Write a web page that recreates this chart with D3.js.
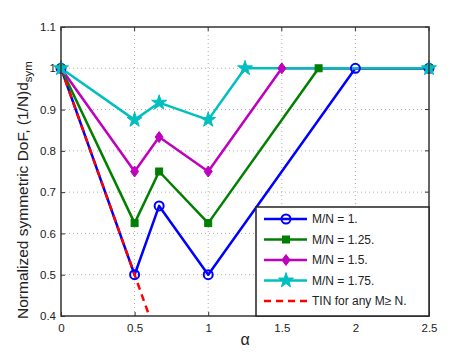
<!DOCTYPE html>
<html><head><meta charset="utf-8">
<script src="https://cdn.jsdelivr.net/npm/d3@7"></script>
<style>body{margin:0;background:#fff}svg{display:block}text{font-family:"Liberation Sans",Arial,sans-serif}</style>
</head><body><svg id="c" width="474" height="355"></svg>
<script>
const alphaM1 = [0, 0.5, 2/3, 1, 2, 2.5];
const dofM1 = [1, 0.5, 2/3, 0.5, 1, 1];
const alphaM125 = [0, 0.5, 2/3, 1, 1.75, 2.5];
const dofM125 = [1, 0.625, 0.75, 0.625, 1, 1];
const alphaM15 = [0, 0.5, 2/3, 1, 1.5, 2.5];
const dofM15 = [1, 0.75, 5/6, 0.75, 1, 1];
const alphaM175 = [0, 0.5, 2/3, 1, 1.25, 2.5];
const dofM175 = [1, 0.875, 11/12, 0.875, 1, 1];
const alphaTIN = [0, 0.6];
const dofTIN = [1, 0.4];
const seriesNames = ["M/N = 1.", "M/N = 1.25.", "M/N = 1.5.", "M/N = 1.75.", "TIN for any M\u2265 N."];
const xTicks = [0, 0.5, 1, 1.5, 2, 2.5];
const yTicks = [0.4, 0.5, 0.6, 0.7, 0.8, 0.9, 1, 1.1];

const svg = d3.select("#c");
const L = 61, R = 429, T = 27, B = 316;
const x = d3.scaleLinear().domain([0, 2.5]).range([L, R]);
const y = d3.scaleLinear().domain([0.4, 1.1]).range([B, T]);

// grid
const grid = svg.append("g").attr("stroke", "#b0b0b0").attr("stroke-width", 1).attr("stroke-dasharray", "1,3");
xTicks.slice(1, -1).forEach(t => grid.append("line").attr("x1", x(t)).attr("x2", x(t)).attr("y1", T).attr("y2", B));
yTicks.slice(1, -1).forEach(t => grid.append("line").attr("x1", L).attr("x2", R).attr("y1", y(t)).attr("y2", y(t)));

// axes
const xa = svg.append("g").attr("transform", `translate(0,${B})`).call(d3.axisBottom(x).tickValues(xTicks).tickFormat(d3.format("")).tickSize(-4).tickPadding(8));
const ya = svg.append("g").attr("transform", `translate(${L},0)`).call(d3.axisLeft(y).tickValues(yTicks).tickFormat(d3.format("")).tickSize(-4).tickPadding(5));
[xa, ya].forEach(a => { a.selectAll("text").attr("font-size", 11.5).attr("fill", "#222").style("font-family", "Liberation Sans, Arial, sans-serif"); a.selectAll("line").attr("stroke", "#333"); a.select(".domain").remove(); });
// top/right ticks
const tr = svg.append("g").attr("stroke", "#333");
xTicks.forEach(t => tr.append("line").attr("x1", x(t)).attr("x2", x(t)).attr("y1", T).attr("y2", T + 4));
yTicks.forEach(t => tr.append("line").attr("x1", R).attr("x2", R - 4).attr("y1", y(t)).attr("y2", y(t)));

const clip = svg.append("clipPath").attr("id", "cp").append("rect").attr("x", L).attr("y", T).attr("width", R - L).attr("height", B - T);

const line = d3.line().x(d => x(d[0])).y(d => y(d[1]));
const series = [
  {a: alphaM1, v: dofM1, c: "#0000ff", m: "circle"},
  {a: alphaM125, v: dofM125, c: "#007f00", m: "square"},
  {a: alphaM15, v: dofM15, c: "#bf00bf", m: "diamond"},
  {a: alphaM175, v: dofM175, c: "#00bfbf", m: "star"}
];
function marker(g, type, c, cx, cy) {
  if (type === "circle") g.append("circle").attr("cx", cx).attr("cy", cy).attr("r", 4.5).attr("fill", "none").attr("stroke", c).attr("stroke-width", 2);
  else if (type === "square") g.append("rect").attr("x", cx - 3.5).attr("y", cy - 3.5).attr("width", 7).attr("height", 7).attr("fill", c).attr("stroke", c).attr("stroke-width", 1);
  else if (type === "diamond") g.append("path").attr("d", `M${cx},${cy-5.5}L${cx+4},${cy}L${cx},${cy+5.5}L${cx-4},${cy}Z`).attr("fill", c).attr("stroke", c).attr("stroke-width", 1);
  else g.append("path").attr("transform", `translate(${cx},${cy})`).attr("d", d3.symbol(d3.symbolStar, 70)()).attr("fill", c).attr("stroke", c).attr("stroke-width", 1);
}
const pg = svg.append("g").attr("clip-path", "url(#cp)");
series.forEach(s => {
  const pts = s.a.map((a, i) => [a, s.v[i]]);
  pg.append("path").attr("d", line(pts)).attr("fill", "none").attr("stroke", s.c).attr("stroke-width", 2.5).attr("stroke-linejoin", "round");
});
series.forEach(s => s.a.forEach((a, i) => marker(svg, s.m, s.c, x(a), y(s.v[i]))));
pg.append("path").attr("d", line(alphaTIN.map((a, i) => [a, dofTIN[i]]))).attr("fill", "none").attr("stroke", "#ff0000").attr("stroke-width", 2.5).attr("stroke-dasharray", "7,5");

// box
svg.append("rect").attr("x", L).attr("y", T).attr("width", R - L).attr("height", B - T).attr("fill", "none").attr("stroke", "#333").attr("stroke-width", 1.5);

// legend
const lg = svg.append("g");
lg.append("rect").attr("x", 256).attr("y", 207).attr("width", R - 256).attr("height", B - 207).attr("fill", "#fff").attr("stroke", "#222").attr("stroke-width", 1.5);
const legColors = ["#0000ff", "#007f00", "#bf00bf", "#00bfbf", "#ff0000"];
const legMarks = ["circle", "square", "diamond", "star", null];
seriesNames.forEach((n, i) => {
  const yy = 219 + i * 20.5;
  lg.append("line").attr("x1", 264).attr("x2", 307).attr("y1", yy).attr("y2", yy).attr("stroke", legColors[i]).attr("stroke-width", 2.5).attr("stroke-dasharray", i === 4 ? "7,5" : null);
  if (legMarks[i]) marker(lg, legMarks[i], legColors[i], 286, yy);
  lg.append("text").attr("x", 312).attr("y", yy + 4).attr("font-size", 12).attr("fill", "#222").text(n);
});

// labels
svg.append("text").attr("x", 245).attr("y", 345).attr("text-anchor", "middle").attr("font-size", 16).attr("fill", "#222").text("\u03b1");
const yl = svg.append("text").attr("transform", "translate(28,190) rotate(-90)").attr("text-anchor", "middle").attr("font-size", 15.5).attr("fill", "#222");
yl.append("tspan").text("Normalized symmetric DoF, (1/N)d");
yl.append("tspan").attr("font-size", 11.5).attr("dy", 4).text("sym");
</script></body></html>
